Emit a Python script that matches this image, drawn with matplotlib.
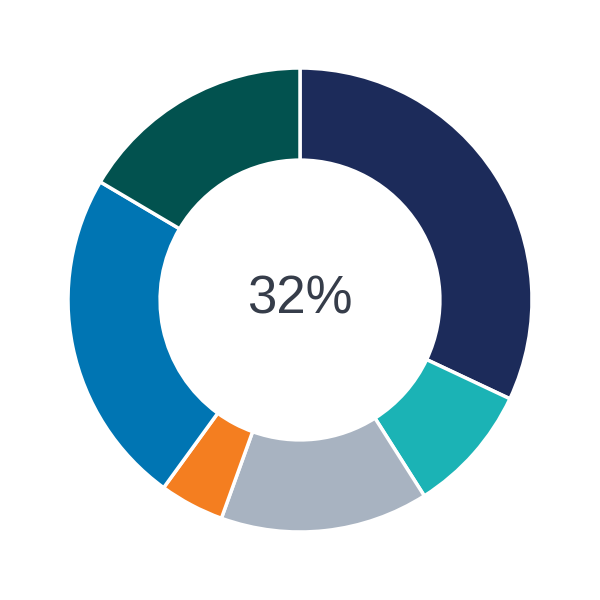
import matplotlib.pyplot as plt

# slice shares, clockwise from 12 o'clock
labels = ['A', 'B', 'C', 'D', 'E', 'F']
values = [32, 9, 14.5, 4.5, 23.5, 16.5]
colors = ['#1c2b5a', '#1bb3b5', '#a8b3c1', '#f47e20', '#0075b3', '#02524f']
center_text = '32%'

fig = plt.figure(figsize=(6, 6), dpi=100)
ax = fig.add_axes([0, 0, 1, 1])

ax.pie(values, colors=colors, startangle=90, counterclock=False,
       radius=1.0,
       wedgeprops=dict(width=0.397, edgecolor='white', linewidth=2.5))

ax.text(0, 0, center_text, ha='center', va='center', fontsize=38,
        color='#363d4a', family='Liberation Sans')

lim = 300 / 232
ax.set_xlim(-lim, lim)
ax.set_ylim(-lim, lim)
ax.set_aspect('equal')
ax.axis('off')

fig.savefig('out.png', dpi=100, facecolor='white')
